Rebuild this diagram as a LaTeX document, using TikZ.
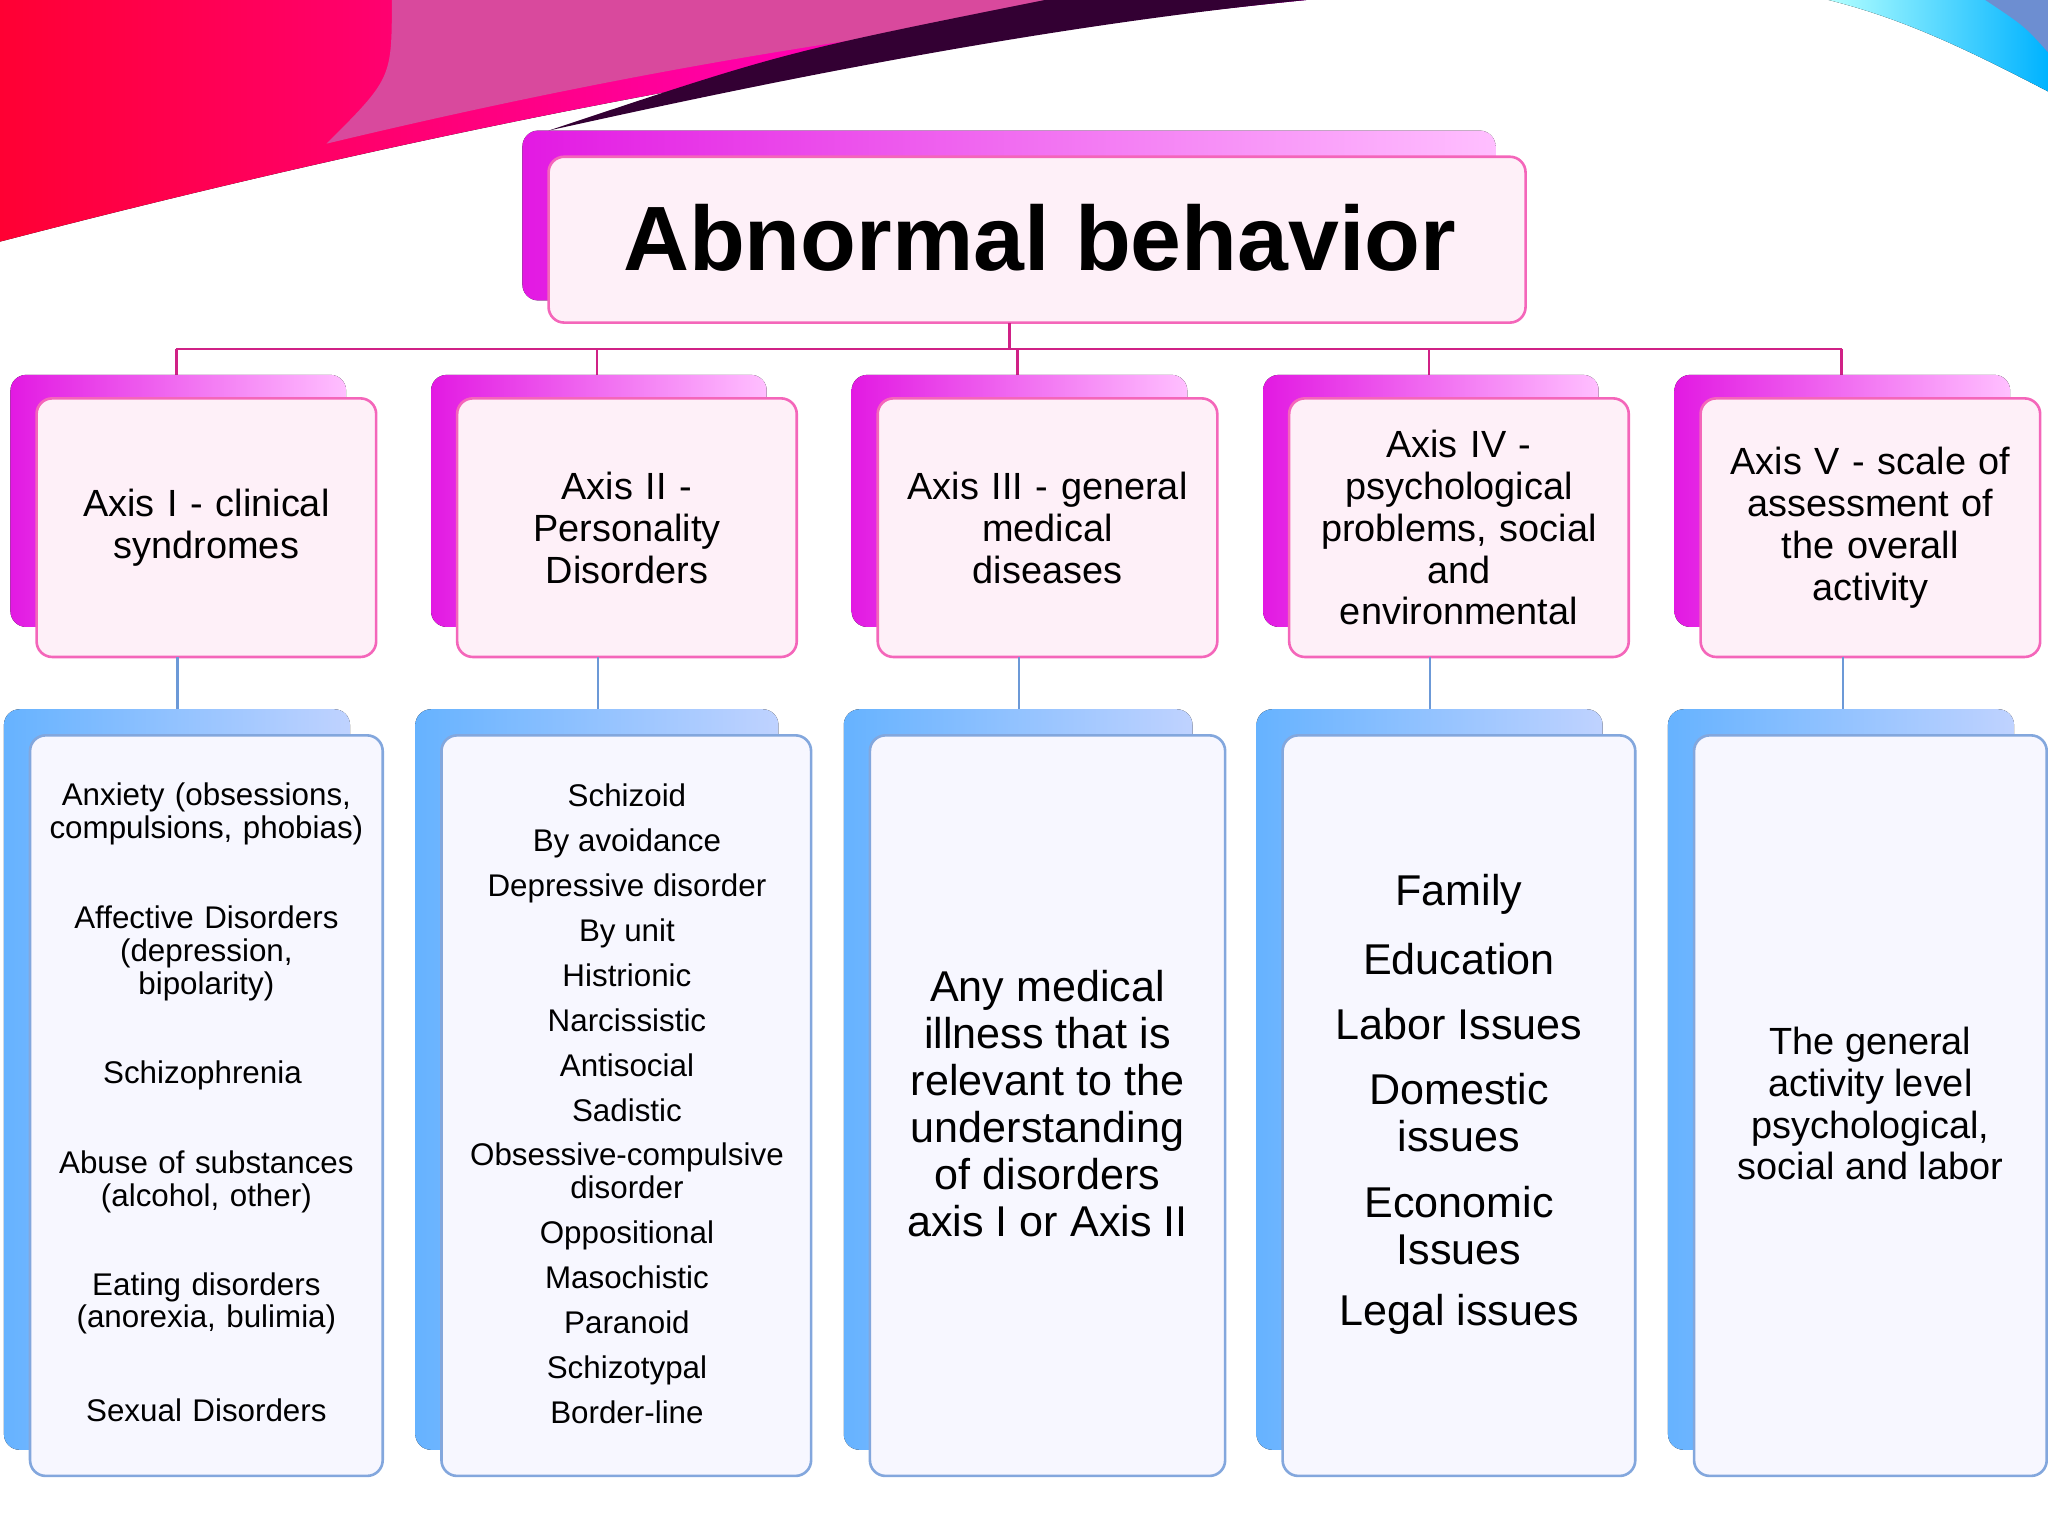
\documentclass[tikz,border=0pt]{standalone}
\usepackage{fontspec}
\setmainfont{Liberation Sans}
\begin{document}
\begin{tikzpicture}[x=0.5pt,y=-0.5pt,
  pback/.style={rounded corners=6pt,left color=magenta!75!violet!90,right color=magenta!25,draw=none},
  pfront/.style={rounded corners=6pt,fill=magenta!6,draw=magenta!60,line width=1pt},
  bback/.style={rounded corners=6pt,left color=cyan!50!blue!60,right color=cyan!30!blue!25,draw=none},
  bfront/.style={rounded corners=6pt,fill=blue!3,draw=cyan!50!blue!50,line width=1pt},
  pline/.style={draw=magenta!70!violet,line width=0.9pt},
  bline/.style={draw=cyan!50!blue!60,line width=0.9pt},
  axtxt/.style={align=center,font=\fontsize{14.5}{16}\selectfont,text width=125pt},
  lst/.style={align=center,font=\fontsize{12}{12.5}\selectfont,text width=135pt}]
\path[use as bounding box] (0,0) rectangle (1568,1176);
% swooshes
\fill[left color=red!80!magenta,right color=magenta] (0,0) -- (1000,0) .. controls (600,40) and (250,120) .. (0,185) -- cycle;
\fill[magenta!70!violet!80] (300,0) -- (900,0) .. controls (700,20) and (500,50) .. (250,110) .. controls (300,60) .. (300,0) -- cycle;
\fill[black!60!violet] (800,0) -- (1000,0) .. controls (800,20) and (600,60) .. (420,100) .. controls (600,40) .. (800,0) -- cycle;
\fill[left color=cyan!30,right color=cyan!70!blue] (1400,0) -- (1568,0) -- (1568,70) .. controls (1510,40) and (1460,15) .. (1400,0) -- cycle;
\fill[cyan!40!blue!60] (1520,0) -- (1568,0) -- (1568,40) .. controls (1550,20) .. (1520,0) -- cycle;
% title
\fill[pback] (400,100) rectangle (1145,230);
\draw[pfront] (420,120) rectangle (1168,247);
\node[font=\fontsize{35}{40}\selectfont\bfseries] (title) at (796,182) {Abnormal behavior};
\coordinate (tb) at (773,247);
\coordinate (hub) at (773,267);
\draw[pline] (tb) -- (hub);
\draw[pline] (135,267) -- (1410,267);
\foreach \i/\xl/\xc in {1/28/135,2/350/457,3/672/779,4/987/1094,5/1302/1410}{
  \coordinate (d\i) at (\xc,267);
  \draw[pline] (d\i) -- (\xc,290);
  \fill[pback] (\xl-20,287) rectangle (\xl+237,480);
  \draw[pfront] (\xl,305) rectangle (\xl+260,503);
  \coordinate (u\i) at (\xc+1,503);
  \coordinate (l\i) at (\xc+1,545);
  \draw[bline] (u\i) -- (l\i);
}
\node[axtxt] (a1) at (158,404) {Axis I - clinical\\syndromes};
\node[axtxt] (a2) at (480,404) {Axis II -\\Personality\\Disorders};
\node[axtxt] (a3) at (802,404) {Axis III - general\\medical\\diseases};
\node[axtxt] (a4) at (1117,404) {Axis IV -\\psychological\\problems, social\\and\\environmental};
\node[axtxt] (a5) at (1432,404) {Axis V - scale of\\assessment of\\the overall\\activity};
% lower boxes
\foreach \xl/\w in {23/270,338/283,666/272,982/270,1297/270}{
  \fill[bback] (\xl-20,543) rectangle (\xl+\w-25,1110);
  \draw[bfront] (\xl,563) rectangle (\xl+\w,1130);
}
\node[lst] (c1a) at (158,623) {Anxiety (obsessions,\\compulsions, phobias)};
\node[lst] (c1b) at (158,730) {Affective Disorders\\(depression,\\bipolarity)};
\node[lst] (c1c) at (155,823) {Schizophrenia};
\node[lst] (c1d) at (158,905) {Abuse of substances\\(alcohol, other)};
\node[lst] (c1e) at (158,998) {Eating disorders\\(anorexia, bulimia)};
\node[lst] (c1f) at (158,1080) {Sexual Disorders};
\node[align=center,font=\fontsize{12}{17.2}\selectfont] (c2) at (480,845) {Schizoid\\By avoidance\\Depressive disorder\\By unit\\Histrionic\\Narcissistic\\Antisocial\\Sadistic\\Obsessive-compulsive\\[-4.7pt]disorder\\Oppositional\\Masochistic\\Paranoid\\Schizotypal\\Border-line};
\node[align=center,font=\fontsize{16.5}{18}\selectfont] (c3) at (802,845) {Any medical\\illness that is\\relevant to the\\understanding\\of disorders\\axis I or Axis II};
\foreach \n/\y/\t in {f1/685/Family,f2/734/Education,f3/784/Labor Issues,f4/852/{Domestic\\issues},f5/938/{Economic\\Issues},f6/1006/Legal issues}
  \node[align=center,font=\fontsize{16.5}{18}\selectfont] (\n) at (1117,\y) {\t};
\node[align=center,font=\fontsize{14.5}{16}\selectfont] (c5) at (1432,845) {The general\\activity level\\psychological,\\social and labor};
\end{tikzpicture}
\end{document}
